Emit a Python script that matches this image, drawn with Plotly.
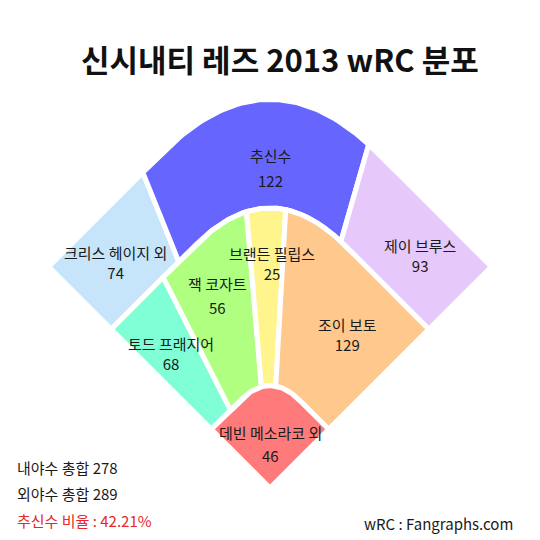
import numpy as np
import plotly.graph_objects as go

title = "신시내티 레즈 2013 wRC 분포"

# 외야: 좌익 -> 중견 -> 우익
outfield_names = ["크리스 헤이지 외", "추신수", "제이 브루스"]
outfield_wrc = [74, 122, 93]
outfield_colors = ["#c6e5fb", "#6666ff", "#e6c8fb"]

# 내야: 3루 -> 유격 -> 2루 -> 1루
infield_names = ["토드 프래지어", "잭 코자트", "브랜든 필립스", "조이 보토"]
infield_wrc = [68, 56, 25, 129]
# 원본 그림은 3루/유격 조각 크기가 서로 바뀐 채로 그려져 있음
infield_slice = [56, 68, 25, 129]
infield_colors = ["#80ffd6", "#b0ff80", "#fff58c", "#ffc88c"]

catcher_name = "데빈 메소라코 외"
catcher_wrc = 46
catcher_color = "#ff7b7b"

source = "wRC : Fangraphs.com"

FONT = "Noto Sans CJK KR"
GAP = 5


def outline(a, p, n=150):
    # 홈플레이트 기준, 45도 돌린 정사각형 + 위 모서리만 둥글게 (2차 베지어)
    s = a / np.sqrt(2)
    top = a * np.sqrt(2)
    L = np.array([-s, s]); R = np.array([s, s])
    B0 = np.array([-p, top - p]); C = np.array([0.0, top]); B2 = np.array([p, top - p])
    t = np.linspace(0, 1, n)[:, None]
    pts = np.vstack([L + (B0 - L) * t,
                     (1 - t) ** 2 * B0 + 2 * t * (1 - t) * C + t ** 2 * B2,
                     B2 + (R - B2) * t])
    ang = np.degrees(np.arctan2(pts[:, 1], pts[:, 0]))
    rad = np.hypot(pts[:, 0], pts[:, 1])
    ang, idx = np.unique(ang, return_index=True)
    rad = rad[idx]
    return lambda th: np.interp(th, ang, rad)


r_catch = outline(83, 30)
r_in = outline(224.5, 75)
r_out = outline(313, 108)


def wedge(th_hi, th_lo, outer, inner=None, n=120):
    th = np.linspace(th_hi, th_lo, n)
    ro = outer(th)
    xs = list(ro * np.cos(np.radians(th)))
    ys = list(ro * np.sin(np.radians(th)))
    if inner is None:
        xs.append(0.0); ys.append(0.0)
    else:
        tb = th[::-1]
        ri = inner(tb)
        xs += list(ri * np.cos(np.radians(tb)))
        ys += list(ri * np.sin(np.radians(tb)))
    xs.append(xs[0]); ys.append(ys[0])
    return xs, ys


def bounds(vals):
    tot = sum(vals)
    edges = [135.0]
    for v in vals:
        edges.append(edges[-1] - 90.0 * v / tot)
    return edges


fig = go.Figure()
labels = []  # (name, value, th_hi, th_lo, outer, inner)

ob = bounds(outfield_wrc)
for nm, v, c, hi, lo in zip(outfield_names, outfield_wrc, outfield_colors, ob[:-1], ob[1:]):
    xs, ys = wedge(hi, lo, r_out, r_in)
    fig.add_trace(go.Scatter(x=xs, y=ys, mode="lines", fill="toself", fillcolor=c,
                             line=dict(color="white", width=GAP), hoverinfo="skip"))
    labels.append((nm, v, hi, lo, r_out, r_in))

ib = bounds(infield_slice)
for nm, v, c, hi, lo in zip(infield_names, infield_wrc, infield_colors, ib[:-1], ib[1:]):
    xs, ys = wedge(hi, lo, r_in, r_catch)
    fig.add_trace(go.Scatter(x=xs, y=ys, mode="lines", fill="toself", fillcolor=c,
                             line=dict(color="white", width=GAP), hoverinfo="skip"))
    labels.append((nm, v, hi, lo, r_in, r_catch))

xs, ys = wedge(135, 45, r_catch)
fig.add_trace(go.Scatter(x=xs, y=ys, mode="lines", fill="toself", fillcolor=catcher_color,
                         line=dict(color="white", width=GAP), hoverinfo="skip"))
labels.append((catcher_name, catcher_wrc, 135, 45, r_catch, None))

# 라벨 위치: (각도 보정, 안쪽~바깥 비율, 이름-숫자 간격)
label_style = [(1.0, 0.50, 18), (-3.0, 0.37, 25), (-2.4, 0.53, 20),
               (0.3, 0.58, 18), (-0.5, 0.64, 24), (-1.3, 0.69, 18), (-2.8, 0.57, 19),
               (0.0, 0.43, 23)]

for (nm, v, hi, lo, outer, inner), (dth, frac, gap) in zip(labels, label_style):
    th = (hi + lo) / 2 + dth
    ro = float(outer(th))
    ri = 0.0 if inner is None else float(inner(th))
    r = ri + frac * (ro - ri)
    x, y = r * np.cos(np.radians(th)), r * np.sin(np.radians(th))
    if gap <= 20:
        fig.add_annotation(x=x, y=y, text=f"{nm}<br>{v}", showarrow=False,
                           font=dict(size=15, color="#1a1a1a"))
    else:
        fig.add_annotation(x=x, y=y + gap / 2, text=nm, showarrow=False,
                           font=dict(size=15, color="#1a1a1a"))
        fig.add_annotation(x=x, y=y - gap / 2, text=str(v), showarrow=False,
                           font=dict(size=15, color="#1a1a1a"))

# 제목 / 요약
fig.add_annotation(x=10, y=430, text=title, showarrow=False,
                   font=dict(size=31, color="#111", weight=700))

in_tot = sum(infield_wrc)
out_tot = sum(outfield_wrc)
choo_pct = outfield_wrc[1] / out_tot * 100
summary = [(f"내야수 총합 {in_tot}", "#1a1a1a", 21),
           (f"외야수 총합 {out_tot}", "#1a1a1a", -5),
           (f"추신수 비율 : {choo_pct:.2f}%", "#e8262b", -32)]
for txt, col, yy in summary:
    fig.add_annotation(x=-255, y=yy, text=txt, showarrow=False, xanchor="left",
                       font=dict(size=15, color=col))
fig.add_annotation(x=245, y=-35, text=source, showarrow=False, xanchor="right",
                   font=dict(size=15, color="#1a1a1a"))

# 페이지 기본 여백(8px)만큼 보정: 화면 좌표 = (270 + x, 488 - y)
fig.update_layout(
    width=532, height=532,
    margin=dict(l=0, r=0, t=0, b=0),
    plot_bgcolor="white", paper_bgcolor="white",
    showlegend=False,
    font=dict(family=FONT),
    xaxis=dict(range=[-262, 270], visible=False, fixedrange=True),
    yaxis=dict(range=[-52, 480], visible=False, fixedrange=True),
)

fig.write_html("out.html")
